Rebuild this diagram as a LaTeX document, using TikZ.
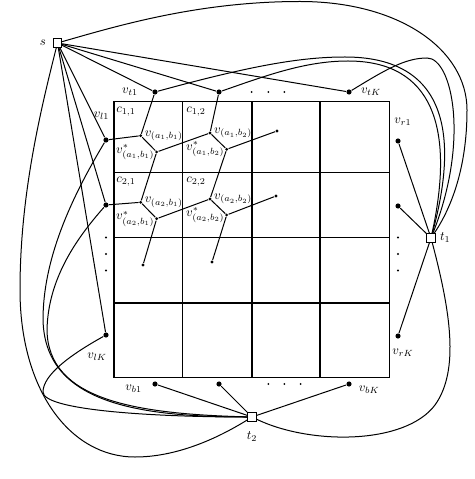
\documentclass[tikz,border=0pt]{standalone}
\begin{document}
\begin{tikzpicture}[x=0.78pt,y=-0.78pt,line width=0.78pt,
    term/.style = {draw, fill=white, inner sep=0pt, minimum size=6.5pt},
    bdot/.style = {circle, fill, inner sep=0pt, minimum size=4pt},
    idot/.style = {circle, fill, inner sep=0pt, minimum size=2.4pt},
    edot/.style = {circle, fill, inner sep=0pt, minimum size=1.6pt},
    gridline/.style = {line width=1pt},
    every label/.style = {inner sep=0pt}]
\useasboundingbox (0,0) rectangle (474,479);
\draw[gridline] (114,101.7) rectangle (389.5,377.7);
\foreach \x in {182.7,252,320}
    \draw[gridline] (\x,101.7) -- (\x,377.7);
\foreach \y in {172.7,237.7,303}
    \draw[gridline] (114,\y) -- (389.5,\y);
\node at (126,112) {$c_{1,1}$};
\node at (196,112) {$c_{1,2}$};
\node at (126,182) {$c_{2,1}$};
\node at (196,182) {$c_{2,2}$};
% terminals
\node[term, label={[label distance=5pt]left:$s$}] (s) at (57.5,43) {};
\node[term, label={[label distance=3pt]right:$t_1$}] (t1) at (431,238) {};
\node[term, label={[label distance=7.5pt]below:$t_2$}] (t2) at (252,417) {};
% boundary vertices
\node[bdot, label={[label distance=10.5pt]left:$v_{t1}$}] (vt1) at (155,92) {};
\node[bdot] (vt2) at (219,92) {};
\node[bdot, label={[label distance=6.6pt]right:$v_{tK}$}] (vtK) at (349,92) {};
\node[bdot, label={[label distance=13pt, xshift=-3.5pt]above:$v_{l1}$}] (vl1) at (106,140) {};
\node[bdot] (vl2) at (106,205) {};
\node[bdot, label={[label distance=11pt, xshift=-7pt]below:$v_{lK}$}] (vlK) at (106,335) {};
\node[bdot, label={[label distance=9pt, xshift=3.8pt]above:$v_{r1}$}] (vr1) at (398,141) {};
\node[bdot] (vr2) at (398,206) {};
\node[bdot, label={[label distance=7.5pt, xshift=3.8pt]below:$v_{rK}$}] (vrK) at (398,336) {};
\node[bdot, label={[label distance=7.5pt, yshift=-3.8pt]left:$v_{b1}$}] (vb1) at (155,384) {};
\node[bdot] (vb2) at (219,384) {};
\node[bdot, label={[label distance=5pt, yshift=-4.4pt]right:$v_{bK}$}] (vbK) at (349,384) {};
\foreach \p in {251.7,268.3,284.3}
    \node[edot] at (\p,92) {};
\foreach \p in {268.3,284.3,300.7}
    \node[edot] at (\p,384) {};
\foreach \p in {237.5,254,270.5} {
    \node[edot] at (106,\p) {};
    \node[edot] at (398,\p) {};
}
% inner vertices
\node[idot, label={[label distance=1.2pt]right:$v_{(a_1,b_1)}$}] (v11) at (140.7,135.7) {};
\node[idot, label={left:$v^*_{(a_1,b_1)}$}] (w11) at (156.7,152) {};
\node[idot, label={[label distance=1.2pt]right:$v_{(a_1,b_2)}$}] (v12) at (210,133) {};
\node[idot, label={left:$v^*_{(a_1,b_2)}$}] (w12) at (226.7,149.3) {};
\node[idot, label={[label distance=1.2pt]right:$v_{(a_2,b_1)}$}] (v21) at (140.7,202.3) {};
\node[idot, label={left:$v^*_{(a_2,b_1)}$}] (w21) at (156.7,218.7) {};
\node[idot, label={[label distance=1.2pt]right:$v_{(a_2,b_2)}$}] (v22) at (210,199) {};
\node[idot, label={left:$v^*_{(a_2,b_2)}$}] (w22) at (226.7,215) {};
\node[idot] (e12) at (277,131) {};
\node[idot] (e22r) at (276,196) {};
\node[idot] (e21) at (143,265) {};
\node[idot] (e22b) at (212,262) {};
\draw (vt1) -- (v11) -- (w11) -- (v21) -- (w21) -- (e21);
\draw (vt2) -- (v12) -- (w12) -- (v22) -- (w22) -- (e22b);
\draw (vl1) -- (v11);
\draw (vl2) -- (v21);
\draw (w11) -- (v12);
\draw (w21) -- (v22);
\draw (w12) -- (e12);
\draw (w22) -- (e22r);
% straight edges to terminals
\foreach \v in {vt1,vt2,vtK,vl1,vl2,vlK}
    \draw (s) -- (\v);
\foreach \v in {vr1,vr2,vrK}
    \draw (t1) -- (\v);
\foreach \v in {vb1,vb2,vbK}
    \draw (t2) -- (\v);
% curved edges
\draw (vt1) .. controls (250,66) and (300,57) .. (345,57)
    .. controls (440,57) and (462,125) .. (t1);
\draw (vt2) .. controls (265,76) and (305,61) .. (348,61)
    .. controls (433,61) and (455,128) .. (t1);
\draw (vtK) .. controls (385,70) and (405,58) .. (427,58)
    .. controls (452,58) and (470,140) .. (t1);
\draw (s) .. controls (120,25) and (200,1.5) .. (300,1.5)
    .. controls (400,1.5) and (467,50) .. (467,110)
    .. controls (467,170) and (450,210) .. (t1);
\draw (s) .. controls (38,120) and (20,200) .. (20,290)
    .. controls (20,390) and (70,457) .. (135,457)
    .. controls (175,457) and (215,440) .. (t2);
\draw (vl1) .. controls (70,200) and (43,260) .. (43,320)
    .. controls (45,400) and (130,417) .. (t2);
\draw (vl2) .. controls (75,240) and (48,280) .. (47,330)
    .. controls (48,400) and (135,414) .. (t2);
\draw (vlK) .. controls (70,355) and (43,375) .. (43,392)
    .. controls (43,410) and (150,417) .. (t2);
\draw (t1) .. controls (450,310) and (460,370) .. (435,405)
    .. controls (405,445) and (310,445) .. (t2);
\end{tikzpicture}
\end{document}
